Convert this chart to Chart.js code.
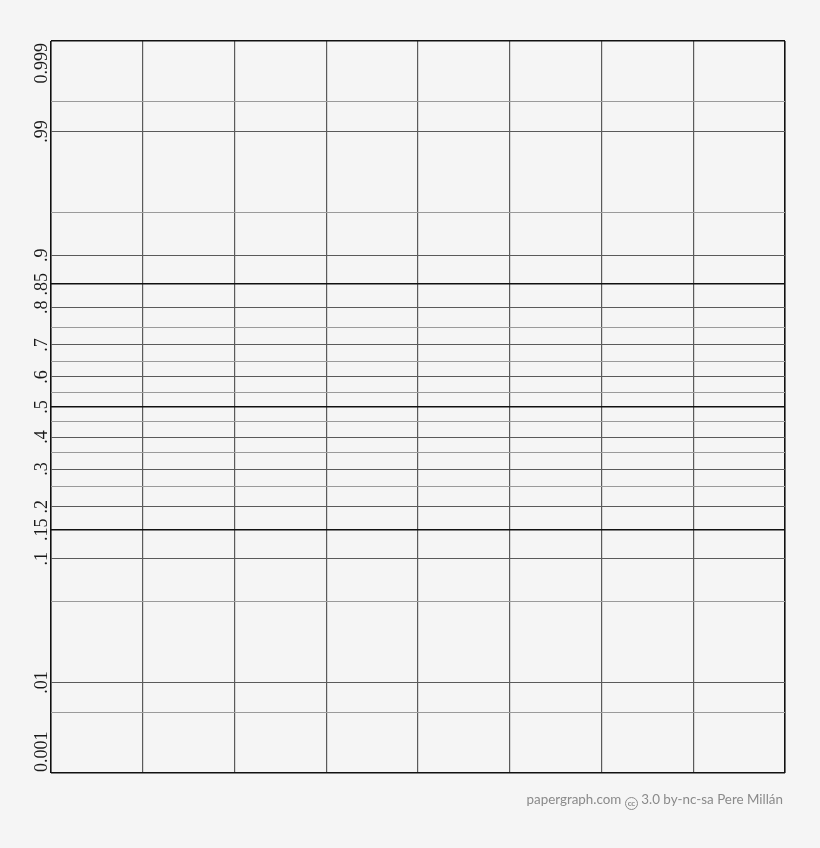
<!DOCTYPE html>
<html>
<head>
<meta charset="utf-8">
<script src="https://cdn.jsdelivr.net/npm/chart.js@4.4.1/dist/chart.umd.min.js"></script>
<style>
html,body{margin:0;padding:0;background:#f5f5f5;}
#wrap{position:relative;width:820px;height:848px;overflow:hidden;}
#c{display:block;}
#footer{position:absolute;right:37px;top:791px;font-family:Lato,"Open Sans",sans-serif;font-size:13.4px;color:#8a8a8a;white-space:nowrap;}
.cc{display:inline-block;width:13px;height:13px;line-height:11px;border:1.4px solid #8a8a8a;border-radius:50%;font-size:8px;font-weight:bold;text-align:center;vertical-align:-2px;box-sizing:border-box;letter-spacing:-0.3px;}
</style>
</head>
<body>
<div id="wrap">
<canvas id="c" width="820" height="848"></canvas>
<div id="footer">papergraph.com <span class="cc">cc</span> 3.0 by-nc-sa Pere Millán</div>
</div>
<script>
// ---- data ----
const labelProbs = [0.999, 0.99, 0.9, 0.85, 0.8, 0.7, 0.6, 0.5, 0.4, 0.3, 0.2, 0.15, 0.1, 0.01, 0.001];
const tickLabels = ['0.999', '.99', '.9', '.85', '.8', '.7', '.6', '.5', '.4', '.3', '.2', '.15', '.1', '.01', '0.001'];
const minorProbs = [0.995, 0.95, 0.75, 0.65, 0.55, 0.45, 0.35, 0.25, 0.05, 0.005];
const heavyProbs = [0.85, 0.5, 0.15];
const edgeProbs = [0.999, 0.001];
const columns = [0, 1, 2, 3, 4, 5, 6, 7, 8];

// inverse normal CDF (Acklam)
function probit(p) {
  const a = [-3.969683028665376e+01, 2.209460984245205e+02, -2.759285104469687e+02, 1.383577518672690e+02, -3.066479806614716e+01, 2.506628277459239e+00];
  const b = [-5.447609879822406e+01, 1.615858368580409e+02, -1.556989798598866e+02, 6.680131188771972e+01, -1.328068155288572e+01];
  const c = [-7.784894002430293e-03, -3.223964580411365e-01, -2.400758277161838e+00, -2.549732539343734e+00, 4.374664141464968e+00, 2.938163982698783e+00];
  const d = [7.784695709041462e-03, 3.224671290700398e-01, 2.445134137142996e+00, 3.754408661907416e+00];
  const pl = 0.02425, ph = 1 - pl;
  let q, r;
  if (p < pl) {
    q = Math.sqrt(-2 * Math.log(p));
    return (((((c[0]*q+c[1])*q+c[2])*q+c[3])*q+c[4])*q+c[5]) / ((((d[0]*q+d[1])*q+d[2])*q+d[3])*q+1);
  } else if (p <= ph) {
    q = p - 0.5; r = q*q;
    return (((((a[0]*r+a[1])*r+a[2])*r+a[3])*r+a[4])*r+a[5])*q / (((((b[0]*r+b[1])*r+b[2])*r+b[3])*r+b[4])*r+1);
  } else {
    q = Math.sqrt(-2 * Math.log(1 - p));
    return -(((((c[0]*q+c[1])*q+c[2])*q+c[3])*q+c[4])*q+c[5]) / ((((d[0]*q+d[1])*q+d[2])*q+d[3])*q+1);
  }
}

const allProbs = labelProbs.concat(minorProbs);
function kindOf(p) {
  if (edgeProbs.includes(p)) return 'edge';
  if (heavyProbs.includes(p)) return 'heavy';
  if (minorProbs.includes(p)) return 'minor';
  return 'major';
}
const yStyle = {
  edge:  { color: '#111111', width: 1.6 },
  heavy: { color: '#111111', width: 1.5 },
  major: { color: '#5a5a5a', width: 1 },
  minor: { color: '#9a9a9a', width: 1 }
};

const labelPlugin = {
  id: 'probLabels',
  afterDraw(chart) {
    const ctx = chart.ctx;
    const ys = chart.scales.y;
    ctx.save();
    ctx.font = '18px "Liberation Serif", "DejaVu Serif", serif';
    ctx.fillStyle = '#1a1a1a';
    ctx.textBaseline = 'alphabetic';
    labelProbs.forEach((p, i) => {
      let y = ys.getPixelForValue(probit(p));
      let align = 'center';
      if (i === 0) { align = 'right'; y = ys.top + 2; }
      else if (i === labelProbs.length - 1) { align = 'left'; y = ys.bottom - 1; }
      ctx.save();
      ctx.translate(47, y);
      ctx.rotate(-Math.PI / 2);
      ctx.textAlign = align;
      ctx.fillText(tickLabels[i], 0, 0);
      ctx.restore();
    });
    ctx.restore();
  }
};

const zMax = probit(0.999), zMin = probit(0.001);

new Chart(document.getElementById('c'), {
  type: 'scatter',
  data: { datasets: [{ data: [] }] },
  options: {
    responsive: false,
    animation: false,
    devicePixelRatio: 1,
    layout: { padding: { left: 51, top: 41, right: 35, bottom: 75 } },
    plugins: { legend: { display: false }, tooltip: { enabled: false } },
    scales: {
      x: {
        type: 'linear',
        min: columns[0],
        max: columns[columns.length - 1],
        afterBuildTicks: s => { s.ticks = columns.map(v => ({ value: v })); },
        afterFit: s => { s.height = 0; },
        ticks: { display: false },
        border: { display: false },
        grid: {
          drawTicks: false,
          color: c => (c.index === 0 || c.index === columns.length - 1) ? '#111111' : '#5a5a5a',
          lineWidth: c => (c.index === 0 || c.index === columns.length - 1) ? 1.6 : 1.2
        }
      },
      y: {
        type: 'linear',
        min: zMin,
        max: zMax,
        afterBuildTicks: s => { s.ticks = allProbs.map(p => ({ value: probit(p) })); },
        afterFit: s => { s.width = 0; },
        ticks: { display: false },
        border: { display: false },
        grid: {
          drawTicks: false,
          color: c => yStyle[kindOf(allProbs[c.index])].color,
          lineWidth: c => yStyle[kindOf(allProbs[c.index])].width
        }
      }
    }
  },
  plugins: [labelPlugin]
});
</script>
</body>
</html>
